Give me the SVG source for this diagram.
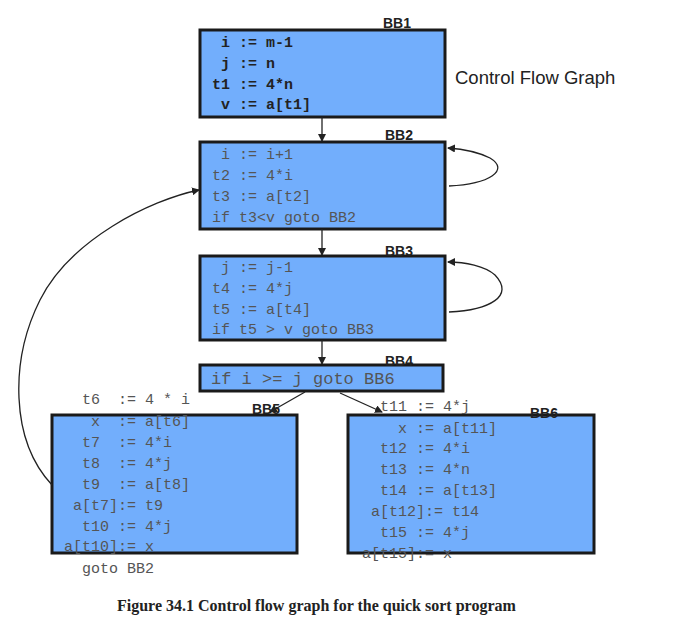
<svg xmlns="http://www.w3.org/2000/svg" width="677" height="627" viewBox="0 0 677 627">
<style>
.box{fill:#72aefc;stroke:#1a1a1a;stroke-width:3}
.code{font-family:"Liberation Mono",monospace;font-size:15px;fill:#555}
.dark{fill:#222;font-weight:bold}
.lbl{font-family:"Liberation Sans",sans-serif;font-size:14px;font-weight:bold;fill:#222}
.ln{fill:none;stroke:#222;stroke-width:1.3}
</style>
<defs><marker id="a" markerWidth="8" markerHeight="8" refX="7" refY="4" orient="auto" markerUnits="userSpaceOnUse"><path d="M0,0L8,4L0,8z" fill="#222"/></marker></defs>
<rect width="677" height="627" fill="#fff"/>
<g id="BB1"><rect class="box" x="200" y="30" width="245" height="87"/>
<text class="code dark" xml:space="preserve"><tspan x="212" y="47"> i := m-1</tspan><tspan x="212" y="68"> j := n</tspan><tspan x="212" y="89">t1 := 4*n</tspan><tspan x="212" y="109"> v := a[t1]</tspan></text>
<text class="lbl" x="383" y="28">BB1</text></g>
<g id="BB2"><rect class="box" x="200" y="142" width="245" height="87"/>
<text class="code" xml:space="preserve"><tspan x="212" y="159"> i := i+1</tspan><tspan x="212" y="180">t2 := 4*i</tspan><tspan x="212" y="201">t3 := a[t2]</tspan><tspan x="212" y="222">if t3&lt;v goto BB2</tspan></text>
<text class="lbl" x="385" y="140">BB2</text></g>
<g id="BB3"><rect class="box" x="200" y="256" width="245" height="84"/>
<text class="code" xml:space="preserve"><tspan x="212" y="272"> j := j-1</tspan><tspan x="212" y="293">t4 := 4*j</tspan><tspan x="212" y="314">t5 := a[t4]</tspan><tspan x="212" y="334">if t5 &gt; v goto BB3</tspan></text>
<text class="lbl" x="385" y="256">BB3</text></g>
<g id="BB4"><rect class="box" x="200" y="365" width="243" height="26"/>
<text class="code" style="font-size:17px" x="211" y="384">if i &gt;= j goto BB6</text>
<text class="lbl" x="385" y="366">BB4</text></g>
<g id="BB5"><rect class="box" x="52" y="415" width="245" height="138"/>
<text class="code" xml:space="preserve"><tspan x="64" y="404">  t6  := 4 * i</tspan><tspan x="64" y="426">   x  := a[t6]</tspan><tspan x="64" y="447">  t7  := 4*i</tspan><tspan x="64" y="468">  t8  := 4*j</tspan><tspan x="64" y="489">  t9  := a[t8]</tspan><tspan x="64" y="510"> a[t7]:= t9</tspan><tspan x="64" y="531">  t10 := 4*j</tspan><tspan x="64" y="551">a[t10]:= x</tspan><tspan x="64" y="573">  goto BB2</tspan></text>
<text class="lbl" x="252" y="414">BB5</text></g>
<g id="BB6"><rect class="box" x="348" y="415" width="246" height="138"/>
<text class="code" xml:space="preserve"><tspan x="362" y="411">  t11 := 4*j</tspan><tspan x="362" y="433">    x := a[t11]</tspan><tspan x="362" y="453">  t12 := 4*i</tspan><tspan x="362" y="474">  t13 := 4*n</tspan><tspan x="362" y="495">  t14 := a[t13]</tspan><tspan x="362" y="516"> a[t12]:= t14</tspan><tspan x="362" y="537">  t15 := 4*j</tspan><tspan x="362" y="558">a[t15]:= x</tspan></text>
<text class="lbl" x="530" y="418">BB6</text></g>
<g id="connectors">
<path class="ln" marker-end="url(#a)" d="M322,117V141"/>
<path class="ln" marker-end="url(#a)" d="M322,229V255"/>
<path class="ln" marker-end="url(#a)" d="M322,340V364"/>
<path class="ln" marker-end="url(#a)" d="M305,392L270,412"/>
<path class="ln" marker-end="url(#a)" d="M340,393L382,412"/>
<path class="ln" marker-end="url(#a)" d="M449,186C490,184 510,170 490,158C478,152 462,149 448,148"/>
<path class="ln" marker-end="url(#a)" d="M449,312C490,310 515,296 495,275C485,266 465,262 448,262"/>
<path class="ln" marker-end="url(#a)" d="M52,485C10,440 10,360 40,300C70,240 150,200 199,190"/>
</g>
<text x="455" y="84" style="font-family:'Liberation Sans',sans-serif;font-size:18.5px;fill:#222">Control Flow Graph</text>
<text x="117" y="611" style="font-family:'Liberation Serif',serif;font-size:16px;font-weight:bold;fill:#222">Figure 34.1 Control flow graph for the quick sort program</text>
</svg>
